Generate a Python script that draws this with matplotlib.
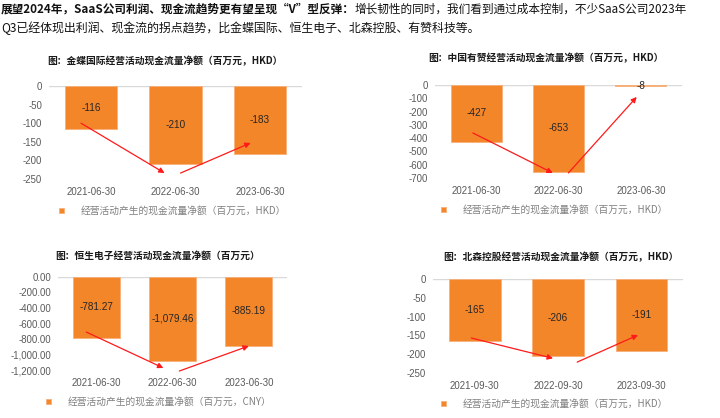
import matplotlib
matplotlib.use('Agg')
import matplotlib.pyplot as plt
from matplotlib.ticker import FuncFormatter

plt.rcParams['font.family'] = ['Noto Sans CJK SC', 'DejaVu Sans']

# 数据
dates_jun = ['2021-06-30', '2022-06-30', '2023-06-30']
dates_sep = ['2021-09-30', '2022-09-30', '2023-09-30']
kingdee = [-116, -210, -183]
youzan = [-427, -653, -8]
hengsheng = [-781.27, -1079.46, -885.19]
beisen = [-165, -206, -191]

titles = ['图：金蝶国际经营活动现金流量净额（百万元，HKD）',
          '图：中国有赞经营活动现金流量净额（百万元，HKD）',
          '图：恒生电子经营活动现金流量净额（百万元）',
          '图：北森控股经营活动现金流量净额（百万元，HKD）']
legend_hkd = '经营活动产生的现金流量净额（百万元，HKD）'
legend_cny = '经营活动产生的现金流量净额（百万元，CNY）'

head_bold = '展望2024年，SaaS公司利润、现金流趋势更有望呈现“V”型反弹：'
head_rest = '增长韧性的同时，我们看到通过成本控制，不少SaaS公司2023年'
head_line2 = 'Q3已经体现出利润、现金流的拐点趋势，比金蝶国际、恒生电子、北森控股、有赞科技等。'

ORANGE = '#F4862A'
W, H = 720, 418


def fx(px):
    return px / W


def fy(py):
    return 1 - py / H


fig = plt.figure(figsize=(7.2, 4.18), dpi=100)

# 顶部说明文字
t1 = fig.text(fx(1), fy(9), head_bold, fontsize=8.4, fontweight='bold',
              va='center', ha='left', color='#111111')
fig.canvas.draw()
bb = t1.get_window_extent()
fig.text(bb.x1 / W, fy(9), head_rest, fontsize=8.4, va='center', ha='left',
         color='#111111')
fig.text(fx(1), fy(28), head_line2, fontsize=8.6, va='center', ha='left',
         color='#111111')


def panel(box, cats, vals, ylim, step, fmt, title, title_pos, leg_text,
          leg_pos, arrows):
    x0, y0, x1, y1 = box
    ax = fig.add_axes([fx(x0), fy(y1), fx(x1 - x0), (y1 - y0) / H])
    xs = range(len(cats))
    ax.bar(xs, vals, width=0.62, color=ORANGE, edgecolor='#F8B07A',
           linewidth=0.6, label=leg_text, zorder=2)
    for x, v in zip(xs, vals):
        ax.text(x, v / 2, fmt(v), ha='center', va='center', fontsize=7.2,
                family=['Liberation Sans', 'DejaVu Sans'], color='#262626',
                zorder=4)
    ax.axhline(0, color='#d9d9d9', lw=1, zorder=1)
    ax.set_xlim(-0.5, len(cats) - 0.5)
    ax.set_ylim(ylim, 0)
    ticks = [-i * step for i in range(int(round(-ylim / step)) + 1)]
    ax.set_yticks(ticks)
    ax.yaxis.set_major_formatter(FuncFormatter(lambda v, p: fmt(v)))
    ax.set_xticks(list(xs))
    ax.set_xticklabels(cats)
    for s in ax.spines.values():
        s.set_visible(False)
    ax.tick_params(axis='x', length=0, pad=5.5, labelsize=6.9,
                   labelcolor='#595959')
    ax.tick_params(axis='y', length=0, pad=5, labelsize=6.9,
                   labelcolor='#595959')
    for lab in ax.get_xticklabels() + ax.get_yticklabels():
        lab.set_family(['Liberation Sans', 'DejaVu Sans'])
    for (a, b) in arrows:
        ax.annotate('', xy=b, xytext=a, xycoords='data', annotation_clip=False,
                    arrowprops=dict(arrowstyle='-|>', color='#FF1A1A', lw=0.9,
                                    mutation_scale=8, shrinkA=0, shrinkB=0),
                    zorder=5)
    fig.text(fx(title_pos[0]), fy(title_pos[1]), title, fontsize=7,
             fontweight='bold', ha='center', va='center', color='#1a1a1a')
    ax.legend(loc='center left', bbox_to_anchor=(fx(leg_pos[0]), fy(leg_pos[1])),
              bbox_transform=fig.transFigure, frameon=False, fontsize=7,
              handlelength=0.55, handleheight=0.55, handletextpad=1.7,
              borderpad=0, borderaxespad=0, labelcolor='#808080')
    return ax


def f_int(v):
    return '{:.0f}'.format(v)


def f_2f(v):
    return '{:,.2f}'.format(v)


panel((49, 86, 302, 179), dates_jun, kingdee, -250, 50, f_int, titles[0],
      (165, 61), legend_hkd, (58.5, 211),
      [((-0.12, -100), (0.87, -234)), ((1.06, -234), (1.89, -153))])
panel((435, 85, 682, 178), dates_jun, youzan, -700, 100, f_int, titles[1],
      (546, 58), legend_hkd, (440.5, 210),
      [((-0.04, -361), (0.93, -662)), ((1.12, -662), (1.95, -90))])
panel((58, 277, 287, 370), dates_jun, hengsheng, -1200, 200, f_2f, titles[2],
      (157.5, 256), legend_cny, (45.5, 402),
      [((-0.13, -710), (0.88, -1174)), ((1.09, -1213), (2.0, -890))])
panel((433, 279, 683, 373), dates_sep, beisen, -250, 50, f_int, titles[3],
      (561, 257), legend_hkd, (440.5, 404),
      [((-0.04, -157), (0.94, -211)), ((1.23, -221), (1.96, -149))])

fig.savefig('out.png', dpi=100, facecolor='white')
